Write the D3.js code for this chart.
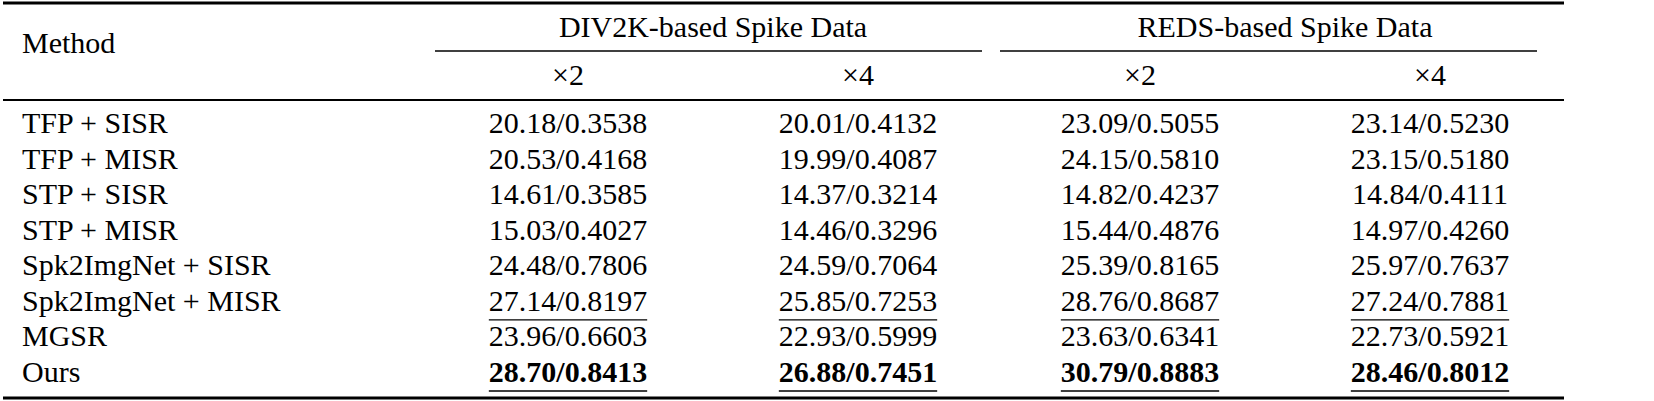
<!DOCTYPE html>
<html><head><meta charset="utf-8">
<script src="https://cdn.jsdelivr.net/npm/d3@7"></script>
<style>body{margin:0;background:#fff}text{font-family:"Liberation Serif","Times New Roman",serif;fill:#000}</style>
</head><body>
<script>
const methods = ['TFP + SISR','TFP + MISR','STP + SISR','STP + MISR','Spk2ImgNet + SISR','Spk2ImgNet + MISR','MGSR','Ours'];
const groups = ['DIV2K-based Spike Data','REDS-based Spike Data'];
const scales = ['\u00d72','\u00d74','\u00d72','\u00d74'];
const div2kX2 = ['20.18/0.3538','20.53/0.4168','14.61/0.3585','15.03/0.4027','24.48/0.7806','27.14/0.8197','23.96/0.6603','28.70/0.8413'];
const div2kX4 = ['20.01/0.4132','19.99/0.4087','14.37/0.3214','14.46/0.3296','24.59/0.7064','25.85/0.7253','22.93/0.5999','26.88/0.7451'];
const redsX2 = ['23.09/0.5055','24.15/0.5810','14.82/0.4237','15.44/0.4876','25.39/0.8165','28.76/0.8687','23.63/0.6341','30.79/0.8883'];
const redsX4 = ['23.14/0.5230','23.15/0.5180','14.84/0.4111','14.97/0.4260','25.97/0.7637','27.24/0.7881','22.73/0.5921','28.46/0.8012'];
const columns = [div2kX2, div2kX4, redsX2, redsX4];
const secondBest = 'Spk2ImgNet + MISR', best = 'Ours';

const W = 1654, H = 401;
const svg = d3.select('body').append('svg').attr('width', W).attr('height', H);
const fs = 30;
const xc = [568, 858, 1140, 1430];
const y = d3.scalePoint().domain(methods).range([123, 372]);

function rule(y0, x0, x1, w) {
  svg.append('line').attr('x1', x0).attr('x2', x1).attr('y1', y0).attr('y2', y0)
    .attr('stroke', '#000').attr('stroke-width', w);
}
rule(3, 3, 1564, 3);
rule(100, 3, 1564, 2);
rule(398, 3, 1564, 3);
rule(51, 435, 982, 1.4);
rule(51, 1000, 1537, 1.4);

svg.append('text').attr('x', 22).attr('y', 53).attr('font-size', fs).text('Method');
groups.forEach((g, i) => {
  svg.append('text').attr('x', (xc[2*i] + xc[2*i+1]) / 2).attr('y', 37)
    .attr('text-anchor', 'middle').attr('font-size', fs).text(g);
});
scales.forEach((s, i) => {
  svg.append('text').attr('x', xc[i]).attr('y', 85).attr('text-anchor', 'middle')
    .attr('font-size', fs).text(s);
});

methods.forEach((m, r) => {
  const yy = y(m) + 10;
  svg.append('text').attr('x', 22).attr('y', yy).attr('font-size', fs).text(m);
  columns.forEach((col, c) => {
    const t = svg.append('text').attr('x', xc[c]).attr('y', yy).attr('text-anchor', 'middle')
      .attr('font-size', fs).attr('font-weight', m === best ? 'bold' : null).text(col[r]);
    if (m === best || m === secondBest) {
      const bb = t.node().getBBox();
      rule(yy + 9, bb.x, bb.x + bb.width, 1.4);
    }
  });
});
</script>
</body></html>
